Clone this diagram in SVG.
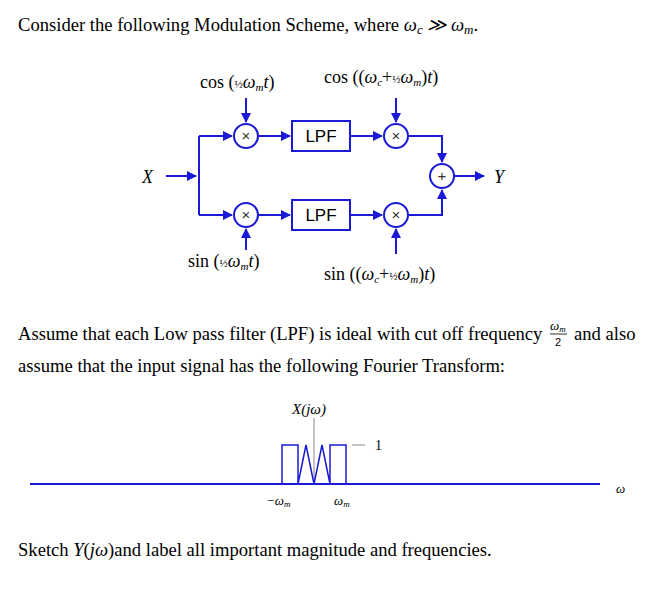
<svg xmlns="http://www.w3.org/2000/svg" width="654" height="591" viewBox="0 0 654 591">
<style>
.t{font-family:"Liberation Serif",serif;font-size:18.6px;fill:#000}
.m{font-family:"Liberation Serif",serif;font-size:18px;fill:#000}
.w{stroke:#1a1ad6;stroke-width:2;fill:none}
.n{stroke:#1a1ad6;stroke-width:2;fill:#fff}
.x{font-family:"Liberation Sans",sans-serif;font-size:15px;fill:#333}
.l{font-family:"Liberation Sans",sans-serif;font-size:17px;fill:#000}
.f{font-size:11px}
</style>
<defs><marker id="a" viewBox="0 0 10 10" refX="9" refY="5" markerWidth="5" markerHeight="5" orient="auto"><path d="M0,0L10,5L0,10z" fill="#1a1ad6"/></marker></defs>
<rect width="654" height="591" fill="#fff"/>
<text class="t" x="18" y="31">Consider the following Modulation Scheme, where <tspan font-style="italic">ω<tspan font-size="13" dy="3">c</tspan><tspan dy="-3"> ≫ ω</tspan><tspan font-size="13" dy="3">m</tspan></tspan><tspan dy="-3">.</tspan></text>
<g id="connectors">
<path class="w" d="M166,176H196" marker-end="url(#a)"/>
<path class="w" d="M199,136V215"/>
<path class="w" d="M199,136H232" marker-end="url(#a)"/>
<path class="w" d="M199,215H232" marker-end="url(#a)"/>
<path class="w" d="M258,136H290" marker-end="url(#a)"/>
<path class="w" d="M258,215H290" marker-end="url(#a)"/>
<path class="w" d="M350,136H382" marker-end="url(#a)"/>
<path class="w" d="M350,215H382" marker-end="url(#a)"/>
<path class="w" d="M408,136H442V162" marker-end="url(#a)"/>
<path class="w" d="M408,215H442V190" marker-end="url(#a)"/>
<path class="w" d="M454,176H484" marker-end="url(#a)"/>
<path class="w" d="M246,98V122" marker-end="url(#a)"/>
<path class="w" d="M396,98V122" marker-end="url(#a)"/>
<path class="w" d="M246,250V229" marker-end="url(#a)"/>
<path class="w" d="M396,254V229" marker-end="url(#a)"/>
</g>
<g id="mix1"><circle class="n" cx="246" cy="136" r="12"/><text class="x" x="246" y="141" text-anchor="middle">×</text></g>
<g id="mix2"><circle class="n" cx="246" cy="215" r="12"/><text class="x" x="246" y="220" text-anchor="middle">×</text></g>
<g id="mix3"><circle class="n" cx="396" cy="136" r="12"/><text class="x" x="396" y="141" text-anchor="middle">×</text></g>
<g id="mix4"><circle class="n" cx="396" cy="215" r="12"/><text class="x" x="396" y="220" text-anchor="middle">×</text></g>
<g id="add"><circle class="n" cx="442" cy="176" r="12"/><text class="x" x="442" y="181" text-anchor="middle">+</text></g>
<g id="lpf1"><rect class="n" x="292" y="121" width="58" height="30"/><text class="l" x="321" y="142" text-anchor="middle">LPF</text></g>
<g id="lpf2"><rect class="n" x="292" y="200" width="58" height="30"/><text class="l" x="321" y="221" text-anchor="middle">LPF</text></g>
<text class="m" x="142" y="183" font-style="italic">X</text>
<text class="m" x="494" y="183" font-style="italic">Y</text>
<text class="m" x="200" y="88">cos (<tspan class="f">½</tspan><tspan font-style="italic">ω<tspan class="f" dy="3">m</tspan><tspan dy="-3">t</tspan></tspan>)</text>
<text class="m" x="324" y="83">cos ((<tspan font-style="italic">ω<tspan class="f" dy="3">c</tspan></tspan><tspan dy="-3">+</tspan><tspan class="f">½</tspan><tspan font-style="italic">ω<tspan class="f" dy="3">m</tspan></tspan><tspan dy="-3">)</tspan><tspan font-style="italic">t</tspan>)</text>
<text class="m" x="188" y="267">sin (<tspan class="f">½</tspan><tspan font-style="italic">ω<tspan class="f" dy="3">m</tspan><tspan dy="-3">t</tspan></tspan>)</text>
<text class="m" x="324" y="280">sin ((<tspan font-style="italic">ω<tspan class="f" dy="3">c</tspan></tspan><tspan dy="-3">+</tspan><tspan class="f">½</tspan><tspan font-style="italic">ω<tspan class="f" dy="3">m</tspan></tspan><tspan dy="-3">)</tspan><tspan font-style="italic">t</tspan>)</text>
<text class="t" x="18" y="340">Assume that each Low pass filter (LPF) is ideal with cut off frequency</text>
<text font-family="Liberation Serif,serif" font-size="13" font-style="italic" x="550" y="330">ω<tspan dy="2" font-size="9">m</tspan></text>
<line x1="550" y1="334" x2="567" y2="334" stroke="#000" stroke-width="0.8"/>
<text font-family="Liberation Sans,sans-serif" font-size="11" x="555" y="346">2</text>
<text class="t" x="574" y="340">and also</text>
<text class="t" x="18" y="372">assume that the input signal has the following Fourier Transform:</text>
<g id="spectrum">
<line x1="314" y1="418" x2="314" y2="484" stroke="#999" stroke-width="1.2"/>
<line x1="30" y1="484" x2="600" y2="484" stroke="#1a1ad6" stroke-width="2"/>
<path d="M282,484V445H298V484L306,445L314,484L322,445L330,484V445H346V484" stroke="#1a1ad6" stroke-width="1.5" fill="none"/>
<line x1="352" y1="445" x2="365" y2="445" stroke="#999" stroke-width="1.2"/>
<text font-family="Liberation Serif,serif" font-size="14" x="375" y="450">1</text>
<text font-family="Liberation Serif,serif" font-size="15" font-style="italic" x="292" y="414">X(jω)</text>
<text font-family="Liberation Serif,serif" font-size="13" font-style="italic" x="266" y="505">−ω<tspan font-size="9" dy="2">m</tspan></text>
<text font-family="Liberation Serif,serif" font-size="13" font-style="italic" x="334" y="505">ω<tspan font-size="9" dy="2">m</tspan></text>
<text font-family="Liberation Serif,serif" font-size="13" font-style="italic" x="616" y="493">ω</text>
</g>
<text class="t" x="18" y="556">Sketch <tspan font-style="italic">Y</tspan>(<tspan font-style="italic">jω</tspan>)and label all important magnitude and frequencies.</text>
</svg>
